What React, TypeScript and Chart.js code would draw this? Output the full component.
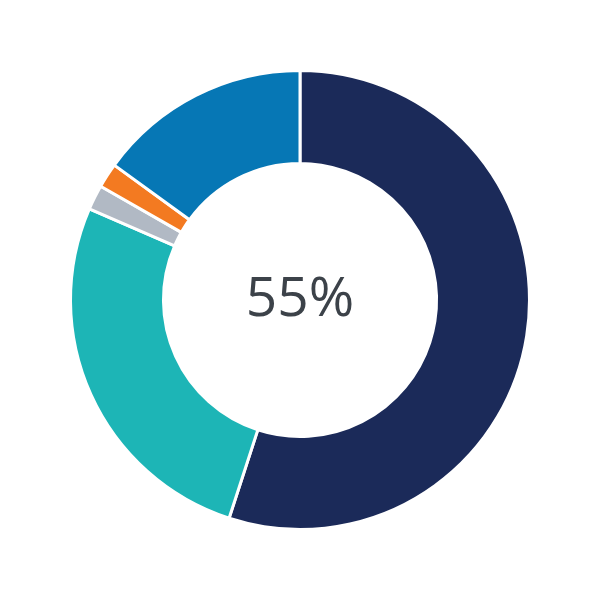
import React, { useEffect, useRef } from "react";
import { Chart, registerables } from "chart.js";

Chart.register(...registerables);

const categories = ["Segment A", "Segment B", "Segment C", "Segment D", "Segment E"];
const values = [55, 26.5, 1.75, 1.75, 15];
const colors = ["#1b2a59", "#1db5b6", "#b1b9c4", "#f37a21", "#0677b5"];
const centerLabel = "55%";

export default function App() {
  const ref = useRef<HTMLCanvasElement | null>(null);
  useEffect(() => {
    if (!ref.current) return;
    const chart = new Chart(ref.current, {
      type: "doughnut",
      data: {
        labels: categories,
        datasets: [
          {
            data: values,
            backgroundColor: colors,
            borderColor: "#ffffff",
            borderWidth: 3,
          },
        ],
      },
      options: {
        animation: false,
        responsive: false,
        cutout: "59.5%",
        layout: { padding: 69 },
        plugins: {
          legend: { display: false },
          tooltip: { enabled: false },
        },
      },
    });
    return () => chart.destroy();
  }, []);
  return (
    <div style={{ position: "absolute", left: 0, top: 0, width: 600, height: 600, background: "#fff" }}>
      <canvas ref={ref} width={600} height={600} style={{ width: 600, height: 600, display: "block" }} />
      <div
        style={{
          position: "absolute",
          left: 0,
          top: 267,
          width: 600,
          textAlign: "center",
          fontFamily: "'Open Sans', sans-serif",
          fontWeight: 400,
          fontSize: 55,
          lineHeight: "55px",
          color: "#3c4249",
        }}
      >
        {centerLabel}
      </div>
    </div>
  );
}
